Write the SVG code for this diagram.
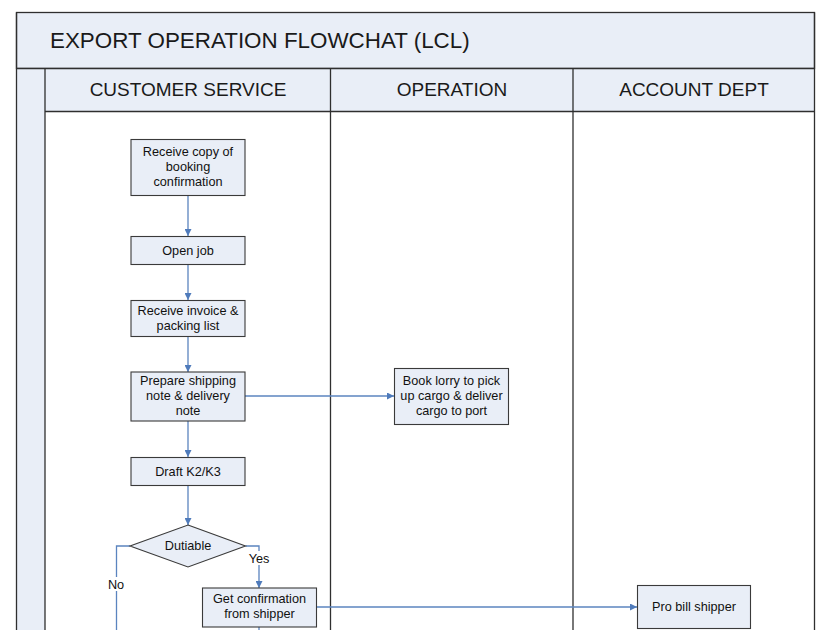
<svg xmlns="http://www.w3.org/2000/svg" width="832" height="630" viewBox="0 0 832 630">
<defs>
<style>
.frame{fill:none;stroke:#2f2f2f;stroke-width:1.3}
.band{fill:#e9eef7;stroke:#2f2f2f;stroke-width:1.3}
.box{fill:#e9eef7;stroke:#3a3a3a;stroke-width:1.1}
.t{font-family:"Liberation Sans",Arial,sans-serif;font-size:12.7px;fill:#111;text-anchor:middle}
.hd{font-family:"Liberation Sans",Arial,sans-serif;font-size:19px;fill:#1a1a1a;text-anchor:middle}
.ttl{font-family:"Liberation Sans",Arial,sans-serif;font-size:22.4px;fill:#1a1a1a}
.c{fill:none;stroke:#5b84bf;stroke-width:1.3}
.lbl{font-family:"Liberation Sans",Arial,sans-serif;font-size:12.7px;fill:#111;text-anchor:middle}
</style>
<marker id="ah" viewBox="0 0 10 10" refX="10" refY="5" markerWidth="7" markerHeight="7" markerUnits="userSpaceOnUse" orient="auto">
<path d="M0,0 L10,5 L0,10 z" fill="#4f7bbb"/>
</marker>
</defs>
<rect width="832" height="630" fill="#ffffff"/>
<g id="pool">
<rect class="band" x="16.5" y="12.5" width="798" height="56"/>
<text class="ttl" x="50" y="48">EXPORT OPERATION FLOWCHAT (LCL)</text>
<rect x="16.5" y="68.5" width="798" height="43" fill="#e9eef7"/>
<rect x="16.5" y="68.5" width="28.5" height="580" fill="#e9eef7"/>
<line class="frame" x1="16.5" y1="68.5" x2="814.5" y2="68.5"/>
<line class="frame" x1="45" y1="111.5" x2="814.5" y2="111.5"/>
<line class="frame" x1="16.5" y1="12.5" x2="16.5" y2="640"/>
<line class="frame" x1="45" y1="68.5" x2="45" y2="640"/>
<line class="frame" x1="330.5" y1="68.5" x2="330.5" y2="640"/>
<line class="frame" x1="573" y1="68.5" x2="573" y2="640"/>
<line class="frame" x1="814.5" y1="12.5" x2="814.5" y2="640"/>
<text class="hd" x="188" y="96">CUSTOMER SERVICE</text>
<text class="hd" x="452" y="96">OPERATION</text>
<text class="hd" x="694" y="96">ACCOUNT DEPT</text>
</g>
<g id="connectors">
<line class="c" x1="188" y1="195" x2="188" y2="236" marker-end="url(#ah)"/>
<line class="c" x1="188" y1="264" x2="188" y2="300" marker-end="url(#ah)"/>
<line class="c" x1="188" y1="336" x2="188" y2="372" marker-end="url(#ah)"/>
<line class="c" x1="188" y1="421" x2="188" y2="457" marker-end="url(#ah)"/>
<line class="c" x1="188" y1="486" x2="188" y2="525" marker-end="url(#ah)"/>
<polyline class="c" points="245.5,546 259,546 259,588" marker-end="url(#ah)"/>
<polyline class="c" points="130,546 116.5,546 116.5,640"/>
<line class="c" x1="245" y1="396" x2="394" y2="396" marker-end="url(#ah)"/>
<line class="c" x1="317" y1="607" x2="637" y2="607" marker-end="url(#ah)"/>
<line class="c" x1="259" y1="627" x2="259" y2="640"/>
<rect x="247" y="551" width="24" height="14" fill="#ffffff"/>
<text class="lbl" x="259" y="563">Yes</text>
<rect x="106" y="577" width="21" height="14" fill="#ffffff"/>
<text class="lbl" x="116" y="589">No</text>
</g>
<g id="n1">
<rect class="box" x="131" y="139.5" width="114" height="56"/>
<text class="t" x="188" y="156">Receive copy of</text>
<text class="t" x="188" y="171">booking</text>
<text class="t" x="188" y="186">confirmation</text>
</g>
<g id="n2">
<rect class="box" x="131" y="236.5" width="114" height="28"/>
<text class="t" x="188" y="254.5">Open job</text>
</g>
<g id="n3">
<rect class="box" x="131" y="300.5" width="114" height="36"/>
<text class="t" x="188" y="314.5">Receive invoice &amp;</text>
<text class="t" x="188" y="329.5">packing list</text>
</g>
<g id="n4">
<rect class="box" x="131" y="372" width="114" height="49"/>
<text class="t" x="188" y="385">Prepare shipping</text>
<text class="t" x="188" y="400">note &amp; delivery</text>
<text class="t" x="188" y="415">note</text>
</g>
<g id="n5">
<rect class="box" x="131" y="457.5" width="114" height="28"/>
<text class="t" x="188" y="476">Draft K2/K3</text>
</g>
<g id="n6">
<polygon class="box" points="188,525 245.5,546 188,567 130,546"/>
<text class="t" x="188" y="550">Dutiable</text>
</g>
<g id="n7">
<rect class="box" x="202.5" y="588" width="114" height="39"/>
<text class="t" x="259.5" y="603">Get confirmation</text>
<text class="t" x="259.5" y="618">from shipper</text>
</g>
<g id="n8">
<rect class="box" x="394.5" y="368.5" width="114" height="56"/>
<text class="t" x="451.5" y="385">Book lorry to pick</text>
<text class="t" x="451.5" y="400">up cargo &amp; deliver</text>
<text class="t" x="451.5" y="415">cargo to port</text>
</g>
<g id="n9">
<rect class="box" x="637.5" y="585.5" width="113" height="43"/>
<text class="t" x="694" y="611">Pro bill shipper</text>
</g>
</svg>
